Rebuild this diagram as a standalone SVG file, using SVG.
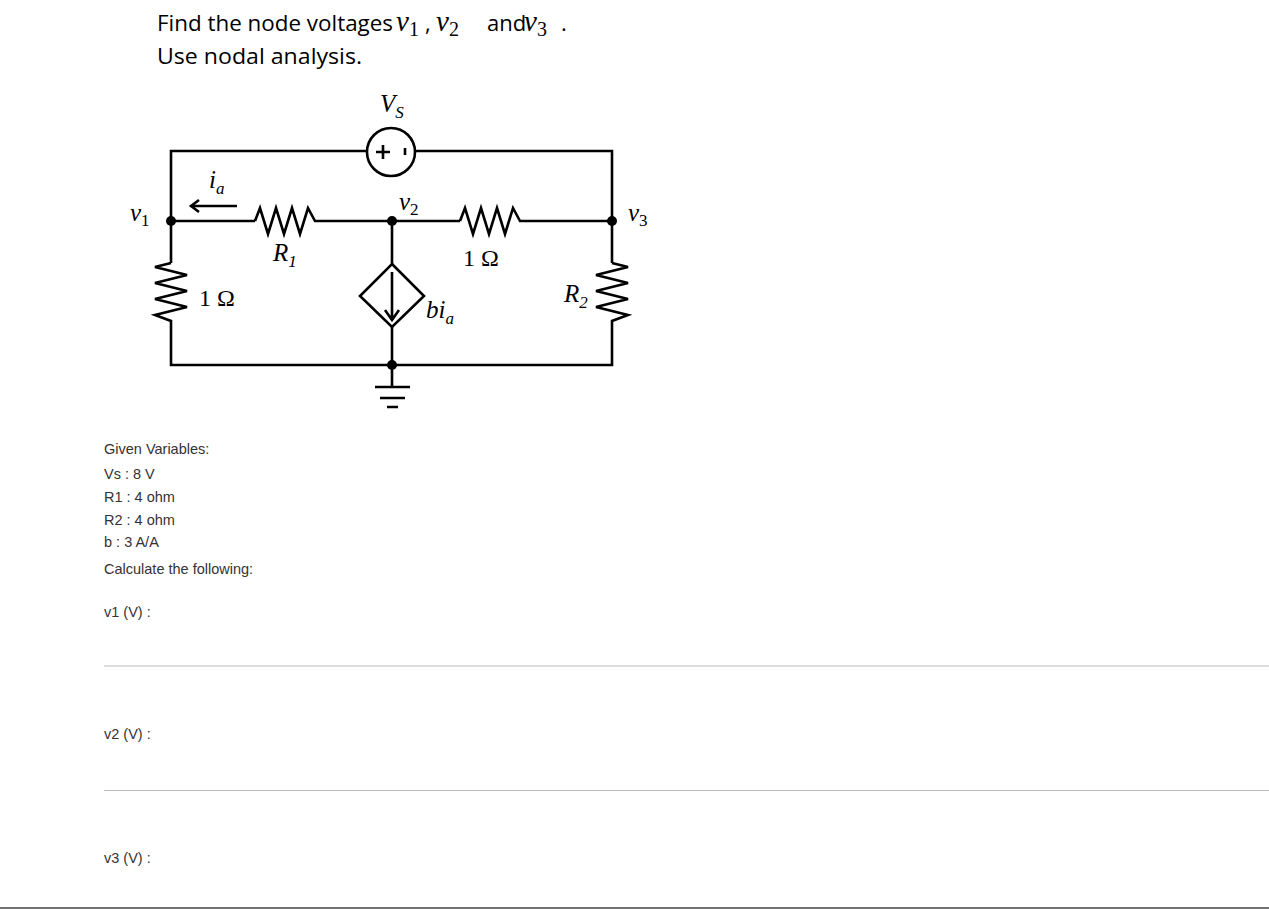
<svg xmlns="http://www.w3.org/2000/svg" width="1269" height="909" viewBox="0 0 1269 909">
<style>
.w{fill:none;stroke:#000;stroke-width:2.6;stroke-linejoin:miter}
.m{font-family:"Liberation Serif",serif;font-style:italic;font-size:25px;fill:#000}
.t{font-size:29px}
.s{font-size:17px;font-style:normal}
.s2{font-size:20px;font-style:normal}
.si{font-size:17px}
.h{font-family:"Open Sans","Liberation Sans",sans-serif;font-size:22px;fill:#000}
.g{font-family:"Liberation Sans",Arial,sans-serif;font-size:14.5px;fill:#333}
.u{font-family:"Liberation Serif",serif;font-size:24px;fill:#000}
</style>
<rect width="1269" height="909" fill="#fff"/>
<g id="title">
<text class="h" x="157" y="31" textLength="236" lengthAdjust="spacingAndGlyphs">Find the node voltages</text>
<text class="m t" x="396" y="31">v<tspan class="s2" dy="5">1</tspan></text>
<text class="h" x="425" y="31">,</text>
<text class="m t" x="436" y="31">v<tspan class="s2" dy="5">2</tspan></text>
<text class="h" x="487" y="31">and</text>
<text class="m t" x="524" y="31">v<tspan class="s2" dy="5">3</tspan></text>
<text class="h" x="561" y="31">.</text>
<text class="h" x="157" y="64" textLength="205" lengthAdjust="spacingAndGlyphs">Use nodal analysis.</text>
</g>
<g id="wires">
<path class="w" d="M366,151 H171 V263 M171,327 V365 H612 V327 M612,263 V151 H415"/>
<path class="w" d="M171,221 H255 M320,221 H460 M525,221 H612"/>
<path class="w" d="M392,221 V264 M392,327 V365 M392,365 V387"/>
<path class="w" d="M255,221 l5,-13 l8,26 l8,-26 l8,26 l8,-26 l8,26 l8,-26 l7,13 H320"/>
<path class="w" d="M460,221 l5,-13 l8,26 l8,-26 l8,26 l8,-26 l8,26 l8,-26 l7,13 H525"/>
<path class="w" d="M171,263 l-16,4 l32,8 l-32,8 l32,8 l-32,8 l32,8 l-32,8 l16,6 V327"/>
<path class="w" d="M612,263 l16,4 l-32,8 l32,8 l-32,8 l32,8 l-32,8 l32,8 l-16,6 V327"/>
<path class="w" d="M375,387 H410 M380,398 H405 M387,407 H398"/>
<path class="w" d="M237,206 H192 M199,200 L191,206 L199,212" stroke-width="2"/>
</g>
<g id="Vs">
<circle class="w" cx="391" cy="152" r="24"/>
<path class="w" d="M376,152 H390 M383,145 V159 M405,148 V155" stroke-width="2.4"/>
<text class="m" x="380" y="112">V<tspan class="si" dy="6">S</tspan></text>
</g>
<g id="dep">
<path class="w" d="M392,264 L424,296 L392,327 L360,296 Z"/>
<path class="w" d="M392,272 V319 M385,310 L392,320 L399,310" stroke-width="2.2"/>
<text class="m" x="426" y="318">bi<tspan class="si" dy="6">a</tspan></text>
</g>
<g id="nodes">
<circle cx="171" cy="221" r="5"/><circle cx="392" cy="221" r="5"/><circle cx="612" cy="221" r="5"/><circle cx="392" cy="365" r="5"/>
</g>
<g id="labels">
<text class="m" x="130" y="221">v<tspan class="s" dy="5">1</tspan></text>
<text class="m" x="399" y="210">v<tspan class="s" dy="5">2</tspan></text>
<text class="m" x="628" y="221">v<tspan class="s" dy="5">3</tspan></text>
<text class="m" x="209" y="188">i<tspan class="si" dy="6">a</tspan></text>
<text class="m" x="273" y="261">R<tspan class="si" dy="6">1</tspan></text>
<text class="m" x="564" y="302">R<tspan class="si" dy="6">2</tspan></text>
<text class="u" x="463" y="266">1 Ω</text>
<text class="u" x="199" y="306">1 Ω</text>
</g>
<g id="form">
<text class="g" x="104" y="454">Given Variables:</text>
<text class="g" x="104" y="479">Vs : 8 V</text>
<text class="g" x="104" y="502">R1 : 4 ohm</text>
<text class="g" x="104" y="525">R2 : 4 ohm</text>
<text class="g" x="104" y="547">b : 3 A/A</text>
<text class="g" x="104" y="574">Calculate the following:</text>
<text class="g" x="104" y="617">v1 (V) :</text>
<text class="g" x="104" y="739">v2 (V) :</text>
<text class="g" x="104" y="863">v3 (V) :</text>
<path d="M104,666 H1269 M104,790.5 H1269" stroke="#bbb" stroke-width="1"/>
<path d="M0,908 H1269" stroke="#444" stroke-width="1.5"/>
</g>
</svg>
